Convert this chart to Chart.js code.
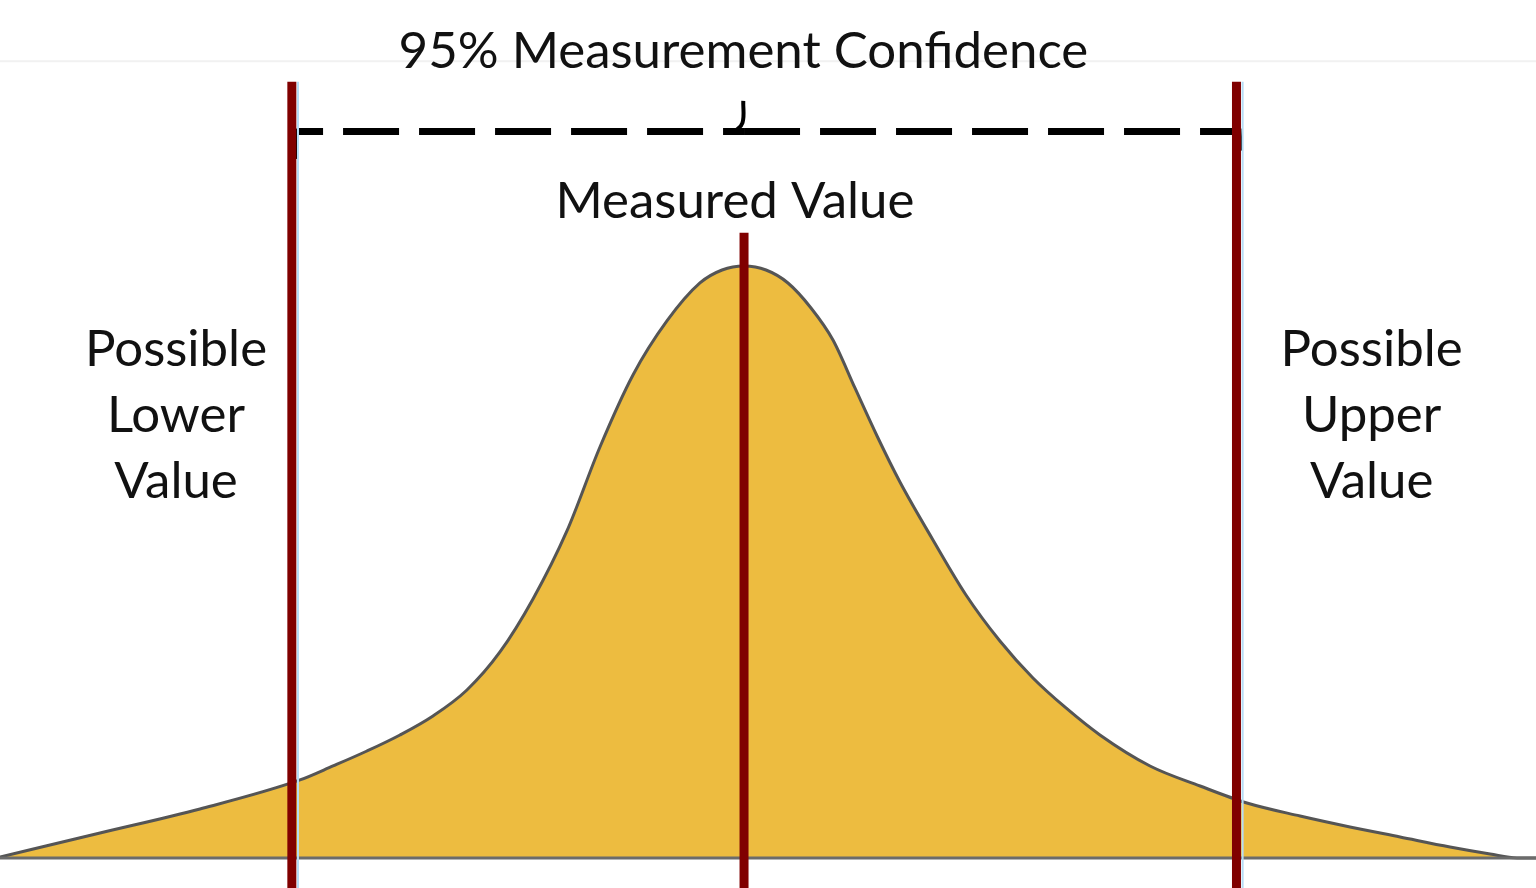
<!DOCTYPE html>
<html>
<head>
<meta charset="utf-8">
<script src="https://cdn.jsdelivr.net/npm/chart.js@4.4.1/dist/chart.umd.min.js"></script>
<style>
  html,body{margin:0;padding:0;background:#fff;}
  #wrap{width:1536px;height:888px;position:relative;}
</style>
</head>
<body>
<div id="wrap"><canvas id="bell"></canvas></div>
<script>
// curva de medición: x en unidades de escala (0-100), y = densidad relativa (pico = 100)
const curveX = [0, 6.51, 13.02, 19.53, 21.68, 23.89, 26.04, 28.19, 30.40, 32.55, 34.70, 36.91, 39.06, 41.21, 43.42, 45.57, 47.01, 48.44,
                49.87, 51.30, 52.80, 54.23, 55.66, 57.10, 58.59, 60.74, 62.89, 65.10, 67.25, 69.40, 71.61, 74.87, 78.13, 81.18,
                84.64, 87.89, 91.15, 94.40, 97.01, 98.76, 100];
const curveY = [0.17, 4.22, 8.28, 13.18, 15.54, 18.07, 20.78, 23.99, 28.38, 34.80, 43.75, 55.24, 69.43, 81.59, 90.71, 97.13, 99.32, 100,
                99.32, 97.13, 92.91, 87.50, 79.39, 71.28, 63.51, 53.72, 44.43, 36.66, 30.41, 25.34, 20.78, 15.54, 12.16, 9.29,
                7.09, 5.24, 3.55, 1.86, 0.68, 0, 0];

// límites y valor medido
const markerNames = ['lower', 'measured', 'upper'];
const markerX = [19.0, 48.44, 80.5];
const markerTop = [131.1, 105.6, 131.1];

// intervalo de confianza (corchete punteado)
const confX = [19.34, 48.44, 80.73];
const confY = 122.7;

// textos
const titleText = '95% Measurement Confidence';
const measuredText = 'Measured Value';
const lowerLines = ['Possible', 'Lower', 'Value'];
const upperLines = ['Possible', 'Upper', 'Value'];

const Y_MIN = -5.07, Y_MAX = 144.93;
const RED = '#800000';

const pts = (xs, ys) => xs.map((x, i) => ({x, y: ys[i]}));

const datasets = [];
// líneas rojas verticales
markerX.forEach((x, i) => {
  datasets.push({label: markerNames[i], data: [{x, y: Y_MIN}, {x, y: markerTop[i]}],
    borderColor: RED, borderWidth: 9, pointRadius: 0, borderCapStyle: 'butt', order: 0});
});
// reflejo celeste al costado de los límites
[markerX[0] + 0.4, markerX[2] + 0.4].forEach(x => {
  datasets.push({label: 'edge', data: [{x, y: Y_MIN}, {x, y: markerTop[0]}],
    borderColor: '#b5dcf5', borderWidth: 2, pointRadius: 0, order: 1});
});
// corchete punteado, mitad izquierda y derecha
datasets.push({label: 'confL', data: [{x: confX[0], y: confY}, {x: confX[1], y: confY}],
  borderColor: '#000', borderWidth: 7, borderDash: [56, 20], borderDashOffset: 30, borderCapStyle: 'butt', pointRadius: 0, order: 1});
datasets.push({label: 'confR', data: [{x: confX[1], y: confY}, {x: confX[2], y: confY}],
  borderColor: '#000', borderWidth: 7, borderDash: [56, 20], borderDashOffset: 0, borderCapStyle: 'butt', pointRadius: 0, order: 1});
// ganchitos del corchete
datasets.push({label: 'hookL', data: [{x: confX[0], y: confY + 0.5}, {x: confX[0] - 0.05, y: confY - 2.5}, {x: confX[0] - 0.08, y: confY - 4.6}],
  borderColor: '#000', borderWidth: 3, pointRadius: 0, tension: 0.4, order: 1});
datasets.push({label: 'hookM', data: [{x: confX[1] - 0.6, y: confY}, {x: confX[1] - 0.1, y: confY + 1.5}, {x: confX[1] - 0.05, y: confY + 5.2}],
  borderColor: '#000', borderWidth: 4, pointRadius: 0, tension: 0.4, order: 1});
datasets.push({label: 'hookR', data: [{x: confX[2], y: confY + 0.5}, {x: confX[2] + 0.08, y: confY - 3.2}],
  borderColor: '#000', borderWidth: 3, pointRadius: 0, order: 1});
// línea base
datasets.push({label: 'base', data: [{x: 0, y: 0}, {x: 100, y: 0}],
  borderColor: '#6b6b6b', borderWidth: 3, pointRadius: 0, order: 2});
// separador tenue arriba
datasets.push({label: 'top', data: [{x: 0, y: 134.6}, {x: 100, y: 134.6}],
  borderColor: '#f1f1f1', borderWidth: 2, pointRadius: 0, order: 2});
// campana
datasets.push({label: 'curve', data: pts(curveX, curveY),
  borderColor: '#555555', borderWidth: 3, backgroundColor: '#edbc40', fill: 'origin',
  cubicInterpolationMode: 'monotone', pointRadius: 0, order: 3});

const textPlugin = {
  id: 'labels',
  afterDatasetsDraw(chart) {
    const {ctx, scales: {x, y}} = chart;
    ctx.save();
    ctx.fillStyle = '#111';
    ctx.font = '51px Lato, "Open Sans", sans-serif';
    ctx.textAlign = 'center';
    ctx.textBaseline = 'alphabetic';
    ctx.fillText(titleText, x.getPixelForValue(48.4), y.getPixelForValue(133.4));
    ctx.fillText(measuredText, x.getPixelForValue(47.85), y.getPixelForValue(108.1));
    const rows = [83.1, 72.0, 60.8];
    lowerLines.forEach((t, i) => ctx.fillText(t, x.getPixelForValue(11.46), y.getPixelForValue(rows[i])));
    upperLines.forEach((t, i) => ctx.fillText(t, x.getPixelForValue(89.3), y.getPixelForValue(rows[i])));
    ctx.restore();
  }
};

new Chart(document.getElementById('bell').getContext('2d'), {
  type: 'line',
  data: {datasets},
  options: {
    responsive: true, maintainAspectRatio: false, animation: false,
    layout: {padding: 0},
    plugins: {legend: {display: false}, tooltip: {enabled: false}},
    scales: {
      x: {type: 'linear', min: 0, max: 100, display: false},
      y: {type: 'linear', min: Y_MIN, max: Y_MAX, display: false}
    }
  },
  plugins: [textPlugin]
});
</script>
</body>
</html>
